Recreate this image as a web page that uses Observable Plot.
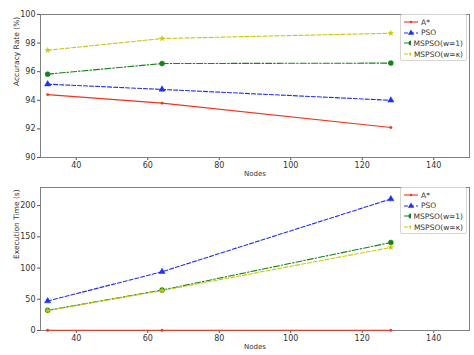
<!DOCTYPE html>
<html>
<head>
<meta charset="utf-8">
<script src="https://cdn.jsdelivr.net/npm/d3@7"></script>
<script src="https://cdn.jsdelivr.net/npm/@observablehq/plot@0.6"></script>
<style>
  html, body { margin: 0; padding: 0; background: #fff; }
  #wrap { position: relative; width: 474px; height: 355px; font-family: "DejaVu Sans", sans-serif; }
  #wrap svg { display: block; }
  .legend { position: absolute; border: 1px solid #d6d6d6; background: rgba(255,255,255,0.9); border-radius: 2px; font-size: 7.5px; color: #333; padding: 2px 3px 1px 3px; }
  .legend .row { display: flex; align-items: center; height: 10.6px; }
  .legend svg { margin-right: 3px; }
</style>
</head>
<body>
<div id="wrap"></div>
<script>
const nodes = [32, 64, 128];
const seriesNames = ["A*", "PSO", "MSPSO(w=1)", "MSPSO(w=κ)"];
const accuracy = {
  "A*": [94.4, 93.8, 92.1],
  "PSO": [95.13, 94.76, 94.0],
  "MSPSO(w=1)": [95.83, 96.57, 96.6],
  "MSPSO(w=κ)": [97.5, 98.32, 98.69]
};
const execTime = {
  "A*": [0.3, 0.3, 0.3],
  "PSO": [47.2, 94.1, 210.6],
  "MSPSO(w=1)": [32.4, 64.8, 140.9],
  "MSPSO(w=κ)": [32.0, 64.0, 133.0]
};
const xTicks = [40, 60, 80, 100, 120, 140];
const accTicks = [90, 92, 94, 96, 98, 100];
const timeTicks = [0, 50, 100, 150, 200];

const styles = {
  "A*": {color: "#f0331f", dash: null, symbol: "circle", r: 1.2},
  "PSO": {color: "#1f2ff2", dash: "4,2", symbol: "triangle", r: 2.3},
  "MSPSO(w=1)": {color: "#14841a", dash: "6,2,1.5,2", symbol: "circle", r: 2.5},
  "MSPSO(w=κ)": {color: "#c8c80a", dash: "4,2", symbol: "star", r: 1.7}
};

function rows(obj) {
  const out = [];
  for (const s of seriesNames) obj[s].forEach((v, i) => out.push({series: s, x: nodes[i], y: v}));
  return out;
}

function seriesMarks(data, order) {
  const marks = [];
  for (const s of order) {
    const st = styles[s];
    const d = data.filter(r => r.series === s);
    marks.push(Plot.line(d, {x: "x", y: "y", stroke: st.color, strokeWidth: 1.1, strokeDasharray: st.dash ?? undefined, clip: false}));
    marks.push(Plot.dot(d, {x: "x", y: "y", fill: st.color, stroke: st.color, strokeWidth: 0.5, symbol: st.symbol, r: st.r}));
  }
  return marks;
}

function makePlot({data, height, marginTop, marginBottom, yDomain, yTicks, yLabel, order}) {
  return Plot.plot({
    width: 474,
    height,
    marginTop,
    marginBottom,
    marginLeft: 40,
    marginRight: 5,
    style: {fontFamily: "DejaVu Sans, sans-serif", fontSize: "8px", color: "#333", background: "#fff"},
    x: {domain: [30, 150]},
    y: {domain: yDomain},
    marks: [
      Plot.axisX(xTicks, {tickSize: 3, tickPadding: 2, label: null, fontSize: 8, stroke: "#555"}),
      Plot.axisY(yTicks, {tickSize: 3, tickPadding: 2, label: null, fontSize: 8, stroke: "#555"}),
      Plot.frame({stroke: "#808080", strokeWidth: 1}),
      ...seriesMarks(data, order),
      Plot.text([yLabel], {frameAnchor: "left", dx: -24, rotate: -90, text: d => d, fontSize: 7.5, fill: "#333"}),
      Plot.text(["Nodes"], {frameAnchor: "bottom", dy: 18, text: d => d, fontSize: 7, fill: "#333"})
    ]
  });
}

const wrap = document.getElementById("wrap");
const topChart = makePlot({
  data: rows(accuracy), height: 180, marginTop: 14, marginBottom: 23,
  yDomain: [90, 100], yTicks: accTicks, yLabel: "Accuracy Rate (%)",
  order: ["A*", "PSO", "MSPSO(w=1)", "MSPSO(w=κ)"]
});
const bottomChart = makePlot({
  data: rows(execTime), height: 175, marginTop: 7, marginBottom: 25,
  yDomain: [0, 229], yTicks: timeTicks, yLabel: "Execution Time (s)",
  order: ["A*", "PSO", "MSPSO(w=1)", "MSPSO(w=κ)"]
});
wrap.appendChild(topChart);
wrap.appendChild(bottomChart);

function legend(topPx) {
  const div = document.createElement("div");
  div.className = "legend";
  div.style.left = "400px";
  div.style.top = topPx + "px";
  div.style.width = "59px";
  for (const s of seriesNames) {
    const st = styles[s];
    const row = document.createElement("div");
    row.className = "row";
    const sw = d3.create("svg").attr("width", 14).attr("height", 8);
    sw.append("line").attr("x1", 0).attr("x2", 14).attr("y1", 4).attr("y2", 4)
      .attr("stroke", st.color).attr("stroke-width", 1.1)
      .attr("stroke-dasharray", st.dash ?? null);
    const sym = st.symbol === "triangle" ? d3.symbolTriangle : st.symbol === "star" ? d3.symbolStar : d3.symbolCircle;
    sw.append("path").attr("transform", "translate(7,4)")
      .attr("d", d3.symbol(sym, Math.PI * st.r * st.r)())
      .attr("fill", st.color);
    row.appendChild(sw.node());
    const t = document.createElement("span");
    t.textContent = s;
    row.appendChild(t);
    div.appendChild(row);
  }
  wrap.appendChild(div);
}
legend(14);
legend(187);
</script>
</body>
</html>
